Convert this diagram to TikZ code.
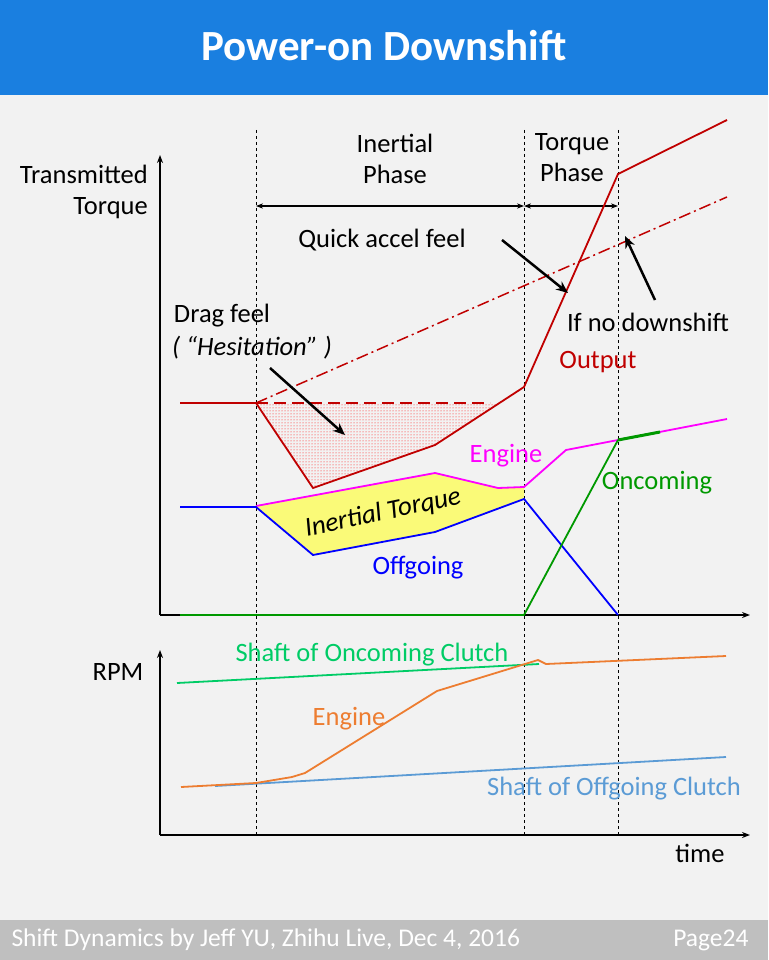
\documentclass[tikz,border=0pt]{standalone}
\usepackage{fontspec}
\setmainfont{Carlito}
\usetikzlibrary{patterns,arrows.meta}
\definecolor{bg}{HTML}{F2F2F2}
\definecolor{tblue}{HTML}{1A7FE0}
\definecolor{dred}{HTML}{C00000}
\definecolor{grn}{HTML}{009900}
\definecolor{lgrn}{HTML}{00CC66}
\definecolor{org}{HTML}{ED7D31}
\definecolor{sblue}{HTML}{5B9BD5}
\definecolor{foot}{HTML}{BFBFBF}
\definecolor{mag}{HTML}{FF00FF}
\definecolor{ylw}{HTML}{FAFA78}
\tikzset{lbl/.style={font=\fontsize{26.5}{31}\selectfont,inner sep=0pt,align=center},
 axis/.style={line width=1.5pt,-{Stealth[length=8pt,width=6pt]}},
 vline/.style={dashed,line width=0.8pt},
 cur/.style={line width=1.8pt},
 pt/.style={inner sep=0pt,minimum size=0pt}}
\begin{document}
\begin{tikzpicture}[x=1pt,y=-1pt]
\useasboundingbox (0,0) rectangle (768,960);
\fill[bg] (0,0) rectangle (768,960);
\fill[tblue] (0,0) rectangle (768,95);
\node[font=\fontsize{43}{47}\selectfont\bfseries,text=white] (title) at (384,46) {Power-on Downshift};
\fill[foot] (0,920) rectangle (768,960);
\node[font=\fontsize{25.5}{29}\selectfont,text=white,anchor=west] (f1) at (8,940) {Shift Dynamics by Jeff YU, Zhihu Live, Dec 4, 2016};
\node[font=\fontsize{25.5}{29}\selectfont,text=white,anchor=east] (f2) at (752,940) {Page24};
% fills
\fill[ylw] (256,506)--(435,473)--(498,488)--(524,487)--(524,499)--(435,532)--(313,555)--cycle;
\fill[pattern=dots,pattern color=red] (256,403)--(313,488)--(435,445)--(499,403)--cycle;
% axes
\coordinate (o1) at (160,615); \coordinate (y1) at (160,155); \coordinate (x1) at (750,615);
\coordinate (o2) at (160,835); \coordinate (y2) at (160,650); \coordinate (x2) at (750,835);
\draw[axis] (o1)--(y1); \draw[axis] (o1)--(x1);
\draw[axis] (o2)--(y2); \draw[axis] (o2)--(x2);
\foreach \x/\n in {256/a,524/b,618/c}{\coordinate (t\n) at (\x,130); \coordinate (b\n) at (\x,835); \draw[vline] (t\n)--(b\n);}
\coordinate (pa) at (256,206); \coordinate (pb) at (524,206); \coordinate (pc) at (618,206);
\draw[line width=1.2pt,{Stealth[length=7pt]}-{Stealth[length=7pt]}] (pa)--(pb);
\draw[line width=1.2pt,{Stealth[length=7pt]}-{Stealth[length=7pt]}] (pb)--(pc);
% curves
\draw[dred,line width=1.5pt,dash pattern=on 12pt off 6pt] (256,403)--(490,403);
\draw[dred,line width=1.5pt,dash pattern=on 12pt off 4pt on 2pt off 4pt] (256,403)--(727,197);
\draw[dred,cur] (180,403)--(256,403)--(313,488)--(435,445)--(524,387)--(618,174)--(727,120);
\draw[mag,cur] (256,506)--(435,473)--(498,488)--(524,487)--(566,450)--(618,440)--(727,419);
\draw[blue,cur] (180,507)--(256,507)--(313,555)--(435,532)--(524,499)--(618,615);
\draw[grn,cur] (180,615)--(524,615)--(618,440);
\draw[grn,line width=3pt] (618,440)--(660,432);
\draw[lgrn,cur] (177,683)--(539,664);
\draw[sblue,cur] (215,786)--(726,757);
\draw[org,cur] (181,787)--(256,783)--(292,777)--(305,773)--(437,691)--(525,664)--(538,660)--(546,664)--(726,656);
% arrows
\foreach \a/\b in {{(270,368)}/{(345,435)},{(502,240)}/{(568,293)},{(655,300)}/{(625,236)}}
  \draw[line width=2.5pt,-{Stealth[length=12pt,width=10pt]}] \a--\b;
% labels
\node[lbl,align=right,anchor=east] (tt) at (148,192) {Transmitted\\Torque};
\node[lbl] (ip) at (395,159) {Inertial\\Phase};
\node[lbl] (tp) at (572,158) {Torque\\Phase};
\node[lbl] (qa) at (382,240) {Quick accel feel};
\node[lbl] (nd) at (648,322) {If no downshift};
\node[lbl] (df) at (222,316) {Drag feel};
\node[lbl,font=\fontsize{26.5}{31}\selectfont\itshape] (hs) at (252,348) {( “Hesitation” )};
\node[lbl,text=dred] (ou) at (598,362) {Output};
\node[lbl,text=mag] (en) at (506,456) {Engine};
\node[lbl,text=grn] (on) at (657,483) {Oncoming};
\node[lbl,text=blue] (of) at (418,568) {Offgoing};
\node[lbl,font=\fontsize{27}{31}\selectfont\itshape,rotate=12] (it) at (383,513) {Inertial Torque};
\node[lbl] (rpm) at (118,672) {RPM};
\node[lbl,text=lgrn] (so) at (372,655) {Shaft of Oncoming Clutch};
\node[lbl,text=org] (re) at (349,719) {Engine};
\node[lbl,text=sblue] (sf) at (614,789) {Shaft of Offgoing Clutch};
\node[lbl] (tm) at (700,853) {time};
\end{tikzpicture}
\end{document}
